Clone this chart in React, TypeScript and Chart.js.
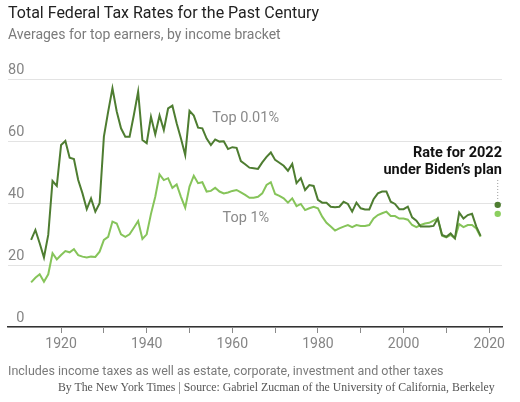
import React, { useEffect, useRef } from "react";
import { Chart, registerables } from "chart.js";

Chart.register(...registerables);

// ---- Data ----
const years = [
  1913, 1914, 1915, 1916, 1917, 1918, 1919,
  1920, 1921, 1922, 1923, 1924, 1925, 1926, 1927, 1928, 1929,
  1930, 1931, 1932, 1933, 1934, 1935, 1936, 1937, 1938, 1939,
  1940, 1941, 1942, 1943, 1944, 1945, 1946, 1947, 1948, 1949,
  1950, 1951, 1952, 1953, 1954, 1955, 1956, 1957, 1958, 1959,
  1960, 1961, 1962, 1963, 1964, 1965, 1966, 1967, 1968, 1969,
  1970, 1971, 1972, 1973, 1974, 1975, 1976, 1977, 1978, 1979,
  1980, 1981, 1982, 1983, 1984, 1985, 1986, 1987, 1988, 1989,
  1990, 1991, 1992, 1993, 1994, 1995, 1996, 1997, 1998, 1999,
  2000, 2001, 2002, 2003, 2004, 2005, 2006, 2007, 2008, 2009,
  2010, 2011, 2012, 2013, 2014, 2015, 2016, 2017, 2018,
];

const top001 = [
  28.1, 31.3, 27, 22.4, 29.7, 47.1, 45.5,
  58.7, 60, 54.6, 54.2, 47.4, 43.1, 38, 41.5, 37.2, 39.9,
  61.4, 69.5, 77, 69.5, 64.1, 61.4, 61.4, 68.4, 75.9, 60.3,
  59.3, 67.8, 62.1, 68.2, 63.5, 70.5, 71.4, 65.7, 60.8, 55.5,
  69.7, 68.2, 64.3, 64.1, 60.8, 58.7, 60.5, 59.8, 59.9, 57.4,
  58, 57.8, 53.5, 52.5, 51.4, 51.2, 51, 53.1, 54.9, 56.3,
  53.9, 53, 52, 50.4, 52.6, 46.4, 48, 44.2, 45.8, 45.5,
  41, 40.1, 40.1, 38.8, 38.6, 38.8, 40.4, 39.7, 37.2, 40.1,
  38.3, 37.9, 37.9, 41.2, 43.1, 43.7, 43.7, 40.4, 39.7, 38,
  38, 38.8, 35.4, 34.3, 32.4, 32.4, 32.4, 32.6, 35, 29.7,
  29.1, 30.2, 28.6, 36.9, 35, 36.1, 36.5, 32.4, 29.4,
];

const top1 = [
  14.4, 15.9, 17, 14.6, 17, 23.8, 21.8,
  23.2, 24.5, 24.1, 25.1, 23.2, 22.7, 22.4, 22.7, 22.6, 24.3,
  28.1, 29.1, 34, 33.4, 29.9, 29.1, 29.9, 32, 34.2, 28.4,
  29.9, 36.5, 42, 49.2, 47.4, 48, 44.9, 46, 42, 38.5,
  45.3, 48.8, 46.4, 46.7, 43.7, 43.9, 44.9, 43.7, 43.1, 43.4,
  43.9, 44.2, 43.4, 42.6, 41.7, 41.7, 42, 43.1, 45.8, 46.7,
  42.9, 42.3, 41.5, 40.1, 41.5, 39, 39.7, 37.7, 38.3, 38.8,
  38.3, 35.6, 33.6, 32.4, 31.1, 31.8, 32.4, 32.9, 32.2, 32.9,
  32.6, 32.6, 32.9, 35, 36.1, 36.7, 37.2, 35.8, 35.8, 35,
  35, 34.6, 32.9, 32.2, 32.9, 33.4, 33.6, 34.3, 35, 29.4,
  28.9, 29.7, 28.6, 33.2, 32.2, 32.9, 32.9, 31.8, 29.1,
];

const planYear = 2022;
const planTop001 = 39.4;
const planTop1 = 36.5;
const leaderRange = [41.3, 48];

const xTickYears = [1920, 1930, 1940, 1950, 1960, 1970, 1980, 1990, 2000, 2010, 2020];
const xLabelYears = [1920, 1940, 1960, 1980, 2000, 2020];
const yTicks = [0, 20, 40, 60, 80];

const xMin = 1907.6;
const xMax = 2023;

// ---- Style ----
const DARK = "#4e7d31";
const LIGHT = "#86c45a";
const FONT = "Roboto, 'Liberation Sans', sans-serif";

const annotations = [
  { text: "Top 0.01%", x: 1955.3, y: 66.1, align: "left", bold: false },
  { text: "Top 1%", x: 1957.7, y: 33.9, align: "left", bold: false },
  { text: "Rate for 2022", x: xMax, y: 54.9, align: "right", bold: true },
  { text: "under Biden\u2019s plan", x: xMax, y: 49.5, align: "right", bold: true },
];

const annotationPlugin = {
  id: "textAnnotations",
  afterDraw(chart: any) {
    const { ctx, scales } = chart;
    ctx.save();
    ctx.textBaseline = "alphabetic";
    for (const a of annotations) {
      ctx.font = `${a.bold ? "bold " : ""}14.5px ${FONT}`;
      ctx.fillStyle = a.bold ? "#121212" : "#8a8a8a";
      ctx.textAlign = a.align as CanvasTextAlign;
      ctx.fillText(a.text, scales.x.getPixelForValue(a.x), scales.y.getPixelForValue(a.y));
    }
    ctx.restore();
  },
};

export default function App() {
  const ref = useRef<HTMLCanvasElement | null>(null);

  useEffect(() => {
    if (!ref.current) return;
    const chart = new Chart(ref.current, {
      type: "line",
      data: {
        datasets: [
          {
            label: "Top 0.01%",
            data: years.map((yr, i) => ({ x: yr, y: top001[i] })),
            borderColor: DARK,
            borderWidth: 2,
            pointRadius: 0,
            tension: 0,
          },
          {
            label: "Top 1%",
            data: years.map((yr, i) => ({ x: yr, y: top1[i] })),
            borderColor: LIGHT,
            borderWidth: 2,
            pointRadius: 0,
            tension: 0,
          },
          {
            label: "leader",
            data: leaderRange.map((v) => ({ x: planYear, y: v })),
            borderColor: "#9a9a9a",
            borderWidth: 1,
            borderDash: [1, 2],
            pointRadius: 0,
          },
          {
            label: "Top 0.01% 2022",
            data: [{ x: planYear, y: planTop001 }],
            showLine: false,
            pointRadius: 3.2,
            pointBackgroundColor: DARK,
            pointBorderWidth: 0,
            borderColor: DARK,
          },
          {
            label: "Top 1% 2022",
            data: [{ x: planYear, y: planTop1 }],
            showLine: false,
            pointRadius: 3.2,
            pointBackgroundColor: "#8ccf5f",
            pointBorderWidth: 0,
            borderColor: "#8ccf5f",
          },
        ],
      },
      options: {
        animation: false,
        responsive: false,
        events: [],
        layout: { padding: { left: 8, right: 18, top: 79, bottom: 51 } },
        plugins: {
          legend: { display: false },
          tooltip: { enabled: false },
          title: { display: false },
        },
        scales: {
          x: {
            type: "linear",
            min: xMin,
            max: xMax,
            afterBuildTicks: (s: any) => {
              s.ticks = xTickYears.map((v) => ({ value: v }));
            },
            afterFit: (s: any) => {
              s.height = 24;
            },
            ticks: {
              autoSkip: false,
              maxRotation: 0,
              padding: 3,
              color: "#858585",
              font: { family: FONT, size: 14 },
              callback: (v: any) => (xLabelYears.includes(Number(v)) ? String(v) : ""),
            },
            grid: {
              drawOnChartArea: false,
              drawTicks: true,
              tickLength: 6,
              color: "#8a8a8a",
              lineWidth: 1,
            },
            border: { display: true, color: "#333333", width: 1.5 },
          },
          y: {
            min: 0,
            max: 80,
            afterBuildTicks: (s: any) => {
              s.ticks = yTicks.map((v) => ({ value: v }));
            },
            ticks: {
              mirror: true,
              padding: 0,
              labelOffset: -9,
              color: "#858585",
              font: { family: FONT, size: 14.5 },
              callback: (v: any) => (Number(v) < 10 ? "\u2007" + v : String(v)),
            },
            grid: { color: "#e3e3e3", lineWidth: 1, drawTicks: false },
            border: { display: false },
          },
        },
      },
      plugins: [annotationPlugin],
    } as any);
    return () => chart.destroy();
  }, []);

  return (
    <div style={{ position: "absolute", left: 0, top: 0, width: 520, height: 402, background: "#fff", overflow: "hidden" }}>
      <canvas ref={ref} width={520} height={402} style={{ position: "absolute", left: 0, top: 0, width: 520, height: 402 }} />
      <div style={{ position: "absolute", left: 8, top: 4.8, fontFamily: FONT, fontSize: 16, lineHeight: "16px", color: "#222", whiteSpace: "nowrap" }}>
        Total Federal Tax Rates for the Past Century
      </div>
      <div style={{ position: "absolute", left: 8, top: 27.2, fontFamily: FONT, fontSize: 14, lineHeight: "14px", color: "#7b7b7b", whiteSpace: "nowrap" }}>
        Averages for top earners, by income bracket
      </div>
      <div style={{ position: "absolute", left: 8, top: 364.5, fontFamily: FONT, fontSize: 12.5, lineHeight: "12.5px", color: "#7a7a7a", whiteSpace: "nowrap" }}>
        Includes income taxes as well as estate, corporate, investment and other taxes
      </div>
      <div style={{ position: "absolute", left: 58, top: 382.4, fontFamily: "'Liberation Serif', 'DejaVu Serif', serif", fontSize: 11.8, lineHeight: "11.8px", color: "#555", whiteSpace: "nowrap" }}>
        By The New York Times | Source: Gabriel Zucman of the University of California, Berkeley
      </div>
    </div>
  );
}
